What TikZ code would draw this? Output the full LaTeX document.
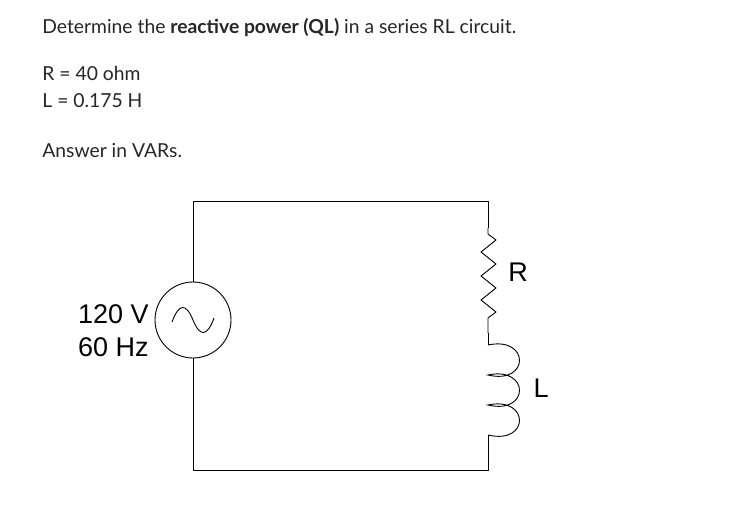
\documentclass[tikz,border=0pt]{standalone}
\usepackage{fontspec}
\setmainfont{Lato}
\newfontfamily\lblfont{Liberation Sans}
\usetikzlibrary{positioning}
\begin{document}
\begin{tikzpicture}[x=1pt,y=-1pt,thick,
	wire/.style={line width=0.9pt,black},
	txt/.style={anchor=base west,inner sep=0pt,font=\fontsize{19.3}{23}\selectfont,text=black!85},
	lbl/.style={inner sep=0pt,font=\lblfont\fontsize{27}{33}\selectfont}]
	\useasboundingbox (0,0) rectangle (754,524);
	
	\node[txt] (q) at (42,34) {Determine the \textbf{reactive power (QL)} in a series RL circuit.};
	\node[txt] (r) at (42,81) {R = 40 ohm};
	\node[txt] (l) at (42,108) {L = 0.175 H};
	\node[txt] (a) at (42,157) {Answer in VARs.};
	
	\coordinate (tl) at (193,201);
	\coordinate (tr) at (488,201);
	\coordinate (bl) at (193,470);
	\coordinate (br) at (488,470);
	\node[draw,circle,line width=0.9pt,minimum size=76pt,inner sep=0pt] (src) at (193,320) {};
	\coordinate (r1) at (488,228);
	\coordinate (r2) at (488,333);
	\coordinate (l1) at (488,345);
	\coordinate (l2) at (488,435);
	
	% wires
	\draw[wire] (src.north) -- (tl) -- (tr) -- (r1);
	\draw[wire] (src.south) -- (bl) -- (br) -- (l2);
	\draw[wire] (r2) -- (l1);
	% resistor
	\draw[wire,line join=round] (r1) -- (488,234) -- (496,240) -- (481,252) -- (496,264)
		-- (481,276) -- (496,288) -- (481,300) -- (496,312) -- (488,318) -- (r2);
	% inductor
	\draw[wire] (l1) .. controls (530,336) and (530,385) .. (488,375)
		.. controls (530,366) and (530,415) .. (488,405)
		.. controls (530,396) and (530,445) .. (l2);
	% source
	\draw[wire] (172,322) .. controls (179,303) and (186,303) .. (193,320)
		.. controls (200,337) and (207,337) .. (214,318);
	
	\node[lbl] (rl) at (518,272) {R};
	\node[lbl] (ll) at (541,388) {L};
	\node[lbl,anchor=east,align=right] (sl) at (149,331) {120 V\\60 Hz};
\end{tikzpicture}
\end{document}
